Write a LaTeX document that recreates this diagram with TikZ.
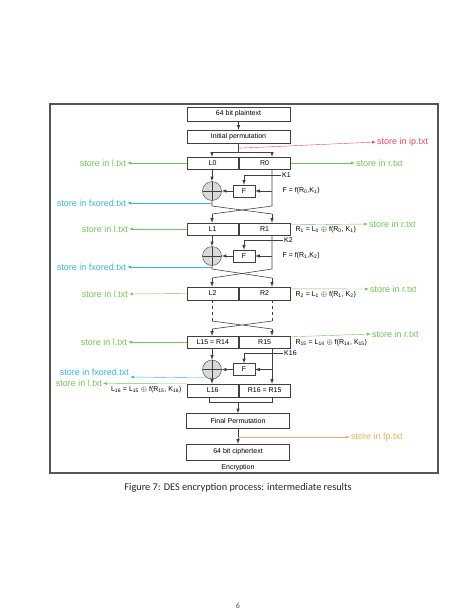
\documentclass[tikz,border=0pt]{standalone}
\usepackage{fontspec}
\setsansfont{Liberation Sans}
\newfontfamily\capfont{Carlito}
\usepackage{tikz}
\usetikzlibrary{positioning}

\definecolor{storegreen}{RGB}{110,200,85}
\definecolor{storeblue}{RGB}{55,180,235}
\definecolor{storered}{RGB}{235,75,90}
\definecolor{storeorange}{RGB}{245,170,95}
\definecolor{framegray}{RGB}{85,85,85}

\begin{document}
\begin{tikzpicture}[>=latex, x=1pt, y=-1pt,
  every node/.style={font=\fontsize{7}{8}\selectfont\sffamily},
  box/.style={draw=black!75, minimum width=103, minimum height=14, inner sep=0pt},
  half/.style={draw=black!75, minimum width=51.5, minimum height=12, inner sep=0pt},
  fbox/.style={draw=black!75, minimum width=22, minimum height=12, inner sep=0pt},
  xor/.style={draw=black!75, circle, fill=gray!30, minimum size=19, inner sep=0pt,
    path picture={\draw[black!75] (path picture bounding box.north) -- (path picture bounding box.south)
      (path picture bounding box.west) -- (path picture bounding box.east);}},
  store/.style={font=\fontsize{9}{10}\selectfont\sffamily, inner sep=1pt},
  line/.style={draw=black!75, line width=0.6pt}]
\useasboundingbox (0,0) rectangle (474,614);
\draw[framegray, line width=1.2pt] (50,104) rectangle (438,473);

% top
\node[box] (plain) at (238.5,114) {64 bit plaintext};
\node[box, minimum height=13] (ip) at (238.5,136.5) {Initial permutation};
\node[half] (L0) at (212.75,163) {L0};
\node[half, right=0pt of L0] (R0) {R0};
\coordinate (rc) at (272,0);
\coordinate (lc) at (212,0);

\draw[line,->] (plain) -- (ip);
\draw[line] (ip.south) -- ++(0,9) coordinate (split);
\draw[line,->] (split -| lc) -- (L0.north -| lc);
\draw[line,->] (split -| rc) -- (R0.north -| rc);
\draw[line] (split -| lc) -- (split -| rc);

\node[store, storered, anchor=west] (ipst) at (376,142) {store in ip.txt};
\draw[storered, ->] ([yshift=-5pt]ip.south) -- (ipst.west);

\node[store, storegreen, anchor=east] (ls0) at (127,163) {store in l.txt};
\node[store, storegreen, anchor=west] (rs0) at (355,163) {store in r.txt};
\draw[storegreen, ->] (L0.west) -- (ls0.east);
\draw[storegreen, ->] (R0.east) -- (rs0.west);

% round 1
\node[xor] (x1) at (212,191) {};
\node[fbox] (f1) at (244,191) {F};
\node[anchor=west, inner sep=1pt] (k1) at (281,175) {K1};
\node[anchor=west] (fe1) at (279,191) {F = f(R\textsubscript{0},K\textsubscript{1})};
\draw[line,->] (L0.south -| lc) -- (x1);
\draw[line,->] (k1.west) -| (f1.north);
\draw[line,->] (f1.east -| rc) -- (f1);
\draw[line,->] (f1) -- (x1);
\coordinate (c1a) at (212,206);
\coordinate (c1b) at (272,206);
\coordinate (d1a) at (212,214);
\coordinate (d1b) at (272,214);
\draw[line] (x1.south) -- (c1a) -- (d1b);
\draw[line] (R0.south -| rc) -- (c1b) -- (d1a);

\node[store, storeblue, anchor=east] (fx1) at (127,203) {store in fxored.txt};
\draw[storeblue, ->] (fx1.east -| lc) -- (fx1.east);

\node[half] (L1) at (212.75,229) {L1};
\node[half, right=0pt of L1] (R1) {R1};
\draw[line,->] (d1a) -- (L1.north -| d1a);
\draw[line,->] (d1b) -- (R1.north -| d1b);
\node[anchor=west] (eq1) at (292,230) {R\textsubscript{1} = L\textsubscript{0} $\oplus$ f(R\textsubscript{0}, K\textsubscript{1})};
\node[store, storegreen, anchor=east] (ls1) at (129,229) {store in l.txt};
\node[store, storegreen, anchor=west] (rs1) at (368,224) {store in r.txt};
\draw[storegreen, ->] (L1.west) -- (ls1.east);
\draw[storegreen, ->] ([yshift=-2pt]R1.north east) -- (rs1.west);

% round 2
\node[xor] (x2) at (212,256) {};
\node[fbox] (f2) at (244,256) {F};
\node[anchor=west, inner sep=1pt] (k2) at (283,240) {K2};
\node[anchor=west] (fe2) at (279,256) {F = f(R\textsubscript{1},K\textsubscript{2})};
\draw[line,->] (L1.south -| lc) -- (x2);
\draw[line,->] (k2.west) -| (f2.north);
\draw[line,->] (f2.east -| rc) -- (f2);
\draw[line,->] (f2) -- (x2);
\coordinate (c2a) at (212,269);
\coordinate (c2b) at (272,269);
\coordinate (d2a) at (212,278);
\coordinate (d2b) at (272,278);
\draw[line] (x2.south) -- (c2a) -- (d2b);
\draw[line] (R1.south -| rc) -- (c2b) -- (d2a);

\node[store, storeblue, anchor=east] (fx2) at (127,267) {store in fxored.txt};
\draw[storeblue, ->] (fx2.east -| lc) -- (fx2.east);

\node[half, minimum height=13] (L2) at (212.75,293.5) {L2};
\node[half, minimum height=13, right=0pt of L2] (R2) {R2};
\draw[line,->] (d2a) -- (L2.north -| d2a);
\draw[line,->] (d2b) -- (R2.north -| d2b);
\node[anchor=west] (eq2) at (292,294.5) {R\textsubscript{2} = L\textsubscript{1} $\oplus$ f(R\textsubscript{1}, K\textsubscript{2})};
\node[store, storegreen, anchor=east] (ls2) at (129,294) {store in l.txt};
\node[store, storegreen, anchor=west] (rs2) at (369,289) {store in r.txt};
\draw[storegreen, ->] (L2.west) -- (ls2.east);
\draw[storegreen, ->] ([yshift=-2pt]R2.north east) -- (rs2.west);

% rounds 3 to 15
\coordinate (c3a) at (212,321);
\coordinate (c3b) at (272,321);
\coordinate (d3a) at (212,329);
\coordinate (d3b) at (272,329);
\draw[line, dashed] (L2.south -| lc) -- (c3a);
\draw[line, dashed] (R2.south -| rc) -- (c3b);
\draw[line] (c3a) -- (d3b) (c3b) -- (d3a);

\node[half] (L15) at (212.75,342) {L15 = R14};
\node[half, right=0pt of L15] (R15) {R15};
\draw[line,->] (d3a) -- (L15.north -| d3a);
\draw[line,->] (d3b) -- (R15.north -| d3b);
\node[anchor=west] (eq15) at (292,343) {R\textsubscript{15} = L\textsubscript{14} $\oplus$ f(R\textsubscript{14}, K\textsubscript{15})};
\node[store, storegreen, anchor=east] (ls15) at (128,342) {store in l.txt};
\node[store, storegreen, anchor=west] (rs15) at (371,334) {store in r.txt};
\draw[storegreen, ->] (L15.west) -- (ls15.east);
\draw[storegreen, ->] ([yshift=-1pt]R15.north east) -- (rs15.west);

% round 16
\node[xor] (x3) at (212,369.5) {};
\node[fbox] (f3) at (244,369.5) {F};
\node[anchor=west, inner sep=1pt] (k3) at (283,353) {K16};
\draw[line,->] (L15.south -| lc) -- (x3);
\draw[line,->] (k3.west) -| (f3.north);
\draw[line,->] (f3.east -| rc) -- (f3);
\draw[line,->] (f3) -- (x3);

\node[half, minimum height=13] (L16) at (212.75,390.5) {L16};
\node[half, minimum height=13, right=0pt of L16] (R16) {R16 = R15};
\draw[line,->] (x3.south) -- (L16.north -| lc);
\draw[line,->] (R15.south -| rc) -- (R16.north -| rc);

\node[store, storeblue, anchor=south east] (fx3) at (130,377) {store in fxored.txt};
\draw[storeblue, ->] ([yshift=-8.5pt]x3.center) -- (fx3.south east);
\node[store, storegreen, anchor=east] (ls16) at (103,383.5) {store in l.txt};
\draw[storegreen, ->] (L16.north west) -- (ls16.east);
\node[anchor=east] (eq16) at (185,390) {L\textsubscript{16} = L\textsubscript{15} $\oplus$ f(R\textsubscript{15}, K\textsubscript{16})};

% output
\coordinate (bl) at (209,402);
\coordinate (br) at (272,402);
\draw[line] (L16.south -| bl) |- (br) -- (R16.south -| br);
\node[box, minimum height=15] (fp) at (238,421) {Final Permutation};
\node[box, minimum height=16] (ct) at (238,452) {64 bit ciphertext};
\draw[line,->] (fp.north |- bl) -- (fp.north);
\draw[line,->] (fp) -- (ct);
\node[store, storeorange, anchor=west] (fps) at (350,437) {store in fp.txt};
\draw[storeorange, ->] (fps.west -| fp) -- (fps.west);
\node (enc) at (238,468) {Encryption};

\node[font=\capfont\fontsize{10.3}{12}\selectfont, text=black!85] (cap) at (238,488) {Figure 7: DES encryption process: intermediate results};
\node[font=\capfont\fontsize{8}{10}\selectfont, text=black!70] (pg) at (238,606) {6};
\end{tikzpicture}
\end{document}
